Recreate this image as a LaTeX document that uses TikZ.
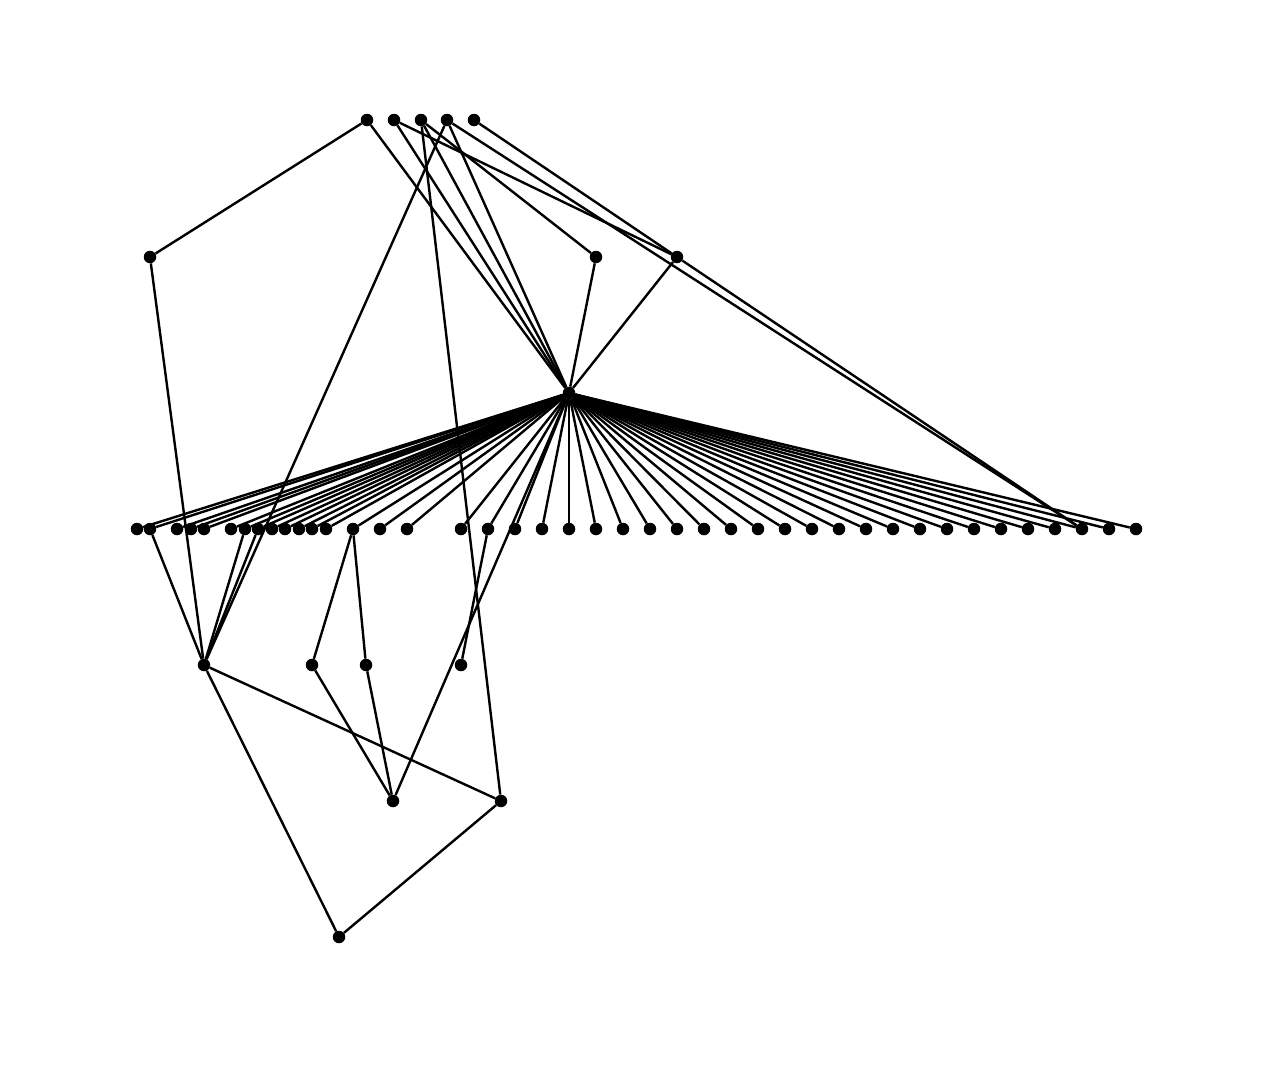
\documentclass[tikz,border=0pt]{standalone}
\begin{document}
\begin{tikzpicture}[x=1pt,y=-1pt,
  dot/.style={circle,fill=black,inner sep=0pt,minimum size=12.5pt},
  edge/.style={line width=2.4pt,black}]
\useasboundingbox[fill=white] (0,0) rectangle (1266,1066);
% top row
\foreach \x in {367,394,421,447,474} \node[dot] (t\x) at (\x,120) {};
% second row
\foreach \x in {150,596,677} \node[dot] (m\x) at (\x,257) {};
% hub
\node[dot] (hub) at (569,393) {};
% fourth row
\foreach \x in {137,150,177,191,204,231,245,258,272,285,299,312,326,353,380,407,461,488,515,542,569,596,623,650,677,704,731,758,785,812,839,866,893,920,947,974,1001,1028,1055,1082,1109,1136}
  \node[dot] (r\x) at (\x,529) {};
% fifth row
\foreach \x in {204,312,366,461} \node[dot] (s\x) at (\x,665) {};
% sixth row
\foreach \x in {393,501} \node[dot] (u\x) at (\x,801) {};
% seventh row
\node[dot] (v339) at (339,937) {};
% edges
\foreach \x in {137,150,177,191,204,231,245,258,272,285,299,312,326,353,380,407,461,488,515,542,569,596,623,650,677,704,731,758,785,812,839,866,893,920,947,974,1001,1028,1055,1082,1109,1136}
  \draw[edge] (hub) -- (r\x);
\draw[edge] (t367) -- (m150);
\draw[edge] (t367) -- (hub);
\draw[edge] (t394) -- (hub);
\draw[edge] (t394) -- (m677);
\draw[edge] (t421) -- (hub);
\draw[edge] (t421) -- (m596);
\draw[edge] (t421) -- (u501);
\draw[edge] (t447) -- (hub);
\draw[edge] (t447) -- (s204);
\draw[edge] (t447) -- (r1082);
\draw[edge] (t474) -- (m677);
\draw[edge] (m677) -- (r1082);
\draw[edge] (m596) -- (hub);
\draw[edge] (m677) -- (hub);
\draw[edge] (m150) -- (s204);
\draw[edge] (hub) -- (u393);
\draw[edge] (r150) -- (s204);
\draw[edge] (r245) -- (s204);
\draw[edge] (r258) -- (s204);
\draw[edge] (r353) -- (s312);
\draw[edge] (r353) -- (s366);
\draw[edge] (r488) -- (s461);
\draw[edge] (s312) -- (u393);
\draw[edge] (s366) -- (u393);
\draw[edge] (s204) -- (u501);
\draw[edge] (s204) -- (v339);
\draw[edge] (u501) -- (v339);
\end{tikzpicture}
\end{document}
